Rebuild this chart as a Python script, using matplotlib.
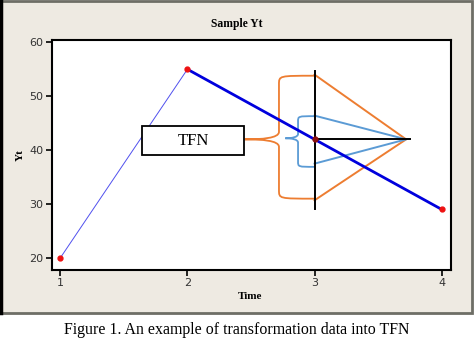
#!/usr/bin/env python3
"""Sample Yt chart with a TFN (triangular fuzzy number) sketch."""

import matplotlib

matplotlib.use("Agg")
import matplotlib.pyplot as plt
from matplotlib.patches import PathPatch, Rectangle
from matplotlib.path import Path

# series
time = [1, 2, 3, 4]
yt = [20, 55, 42, 29]

# TFN sketch around the point at time 3
tfn_x = 3
tfn_apex_x = 3.72
tfn_axis_end = 3.75
tfn_vline = [29.0, 54.6]
outer_tfn = [30.7, 42, 54.0]   # low, mid, high
inner_tfn = [37.5, 42, 46.4]

# braces: (x of spine, x of tip, y bottom, y top, y tip)
outer_brace = (2.72, 2.45, 31.0, 53.8, 42)
inner_brace = (2.87, 2.77, 36.9, 46.3, 42.2)

# label box (x0, x1, y0, y1)
tfn_box = (1.645, 2.445, 39.1, 44.45)

ORANGE = "#ED7D31"
LIGHT_BLUE = "#5B9BD5"
SERIF = ["Liberation Serif", "DejaVu Serif"]
SANS = ["DejaVu Sans"]


def brace_path(x_right, spine, tip, y_bot, y_top, y_tip, r=1.6, r_tip=1.4):
    verts = [
        (x_right, y_top),
        (spine, y_top), (spine, y_top), (spine, y_top - r),
        (spine, y_tip + r_tip),
        (spine, y_tip + 0.2), (spine - (spine - tip) * 0.5, y_tip), (tip, y_tip),
        (spine - (spine - tip) * 0.5, y_tip), (spine, y_tip - 0.2), (spine, y_tip - r_tip),
        (spine, y_bot + r),
        (spine, y_bot), (spine, y_bot), (x_right, y_bot),
    ]
    codes = [
        Path.MOVETO,
        Path.CURVE4, Path.CURVE4, Path.CURVE4,
        Path.LINETO,
        Path.CURVE4, Path.CURVE4, Path.CURVE4,
        Path.CURVE4, Path.CURVE4, Path.CURVE4,
        Path.LINETO,
        Path.CURVE4, Path.CURVE4, Path.CURVE4,
    ]
    return Path(verts, codes)


fig = plt.figure(figsize=(4.74, 3.38), dpi=100)
fig.patch.set_facecolor("white")

# gray window frame behind the plot
frame = Rectangle((0.002, 1 - 313 / 338), 0.994, 313 / 338 - 0.004,
                  transform=fig.transFigure, facecolor="#EEEAE2",
                  edgecolor="#6E6E66", linewidth=2, zorder=-2)
fig.patches.append(frame)
fig.add_artist(plt.Line2D([0.002, 0.002], [1 - 313 / 338, 1], color="black",
                          linewidth=2.5, transform=fig.transFigure, zorder=-1))

ax = fig.add_axes([0.1097, 0.2012, 0.8418, 0.6805])
ax.set_zorder(1)
ax.set_facecolor("white")

ax.plot(time[:2], yt[:2], color="#5050EE", linewidth=0.7, zorder=3)
ax.plot(time[1:], yt[1:], color="#0000DD", linewidth=2.0, zorder=3)
ax.plot([time[i] for i in (0, 1, 3)], [yt[i] for i in (0, 1, 3)], "o",
        color="#EE1111", markersize=3.5, zorder=5)
ax.plot(time[2], yt[2], "o", color="#8B1010", markersize=3.5, zorder=5)

# TFN triangles
ax.plot([tfn_x, tfn_apex_x, tfn_x], [outer_tfn[2], outer_tfn[1], outer_tfn[0]],
        color=ORANGE, linewidth=1.4, zorder=2)
ax.plot([tfn_x, tfn_apex_x, tfn_x], [inner_tfn[2], inner_tfn[1], inner_tfn[0]],
        color=LIGHT_BLUE, linewidth=1.4, zorder=2)
ax.plot([tfn_x, tfn_x], tfn_vline, color="black", linewidth=1.4, zorder=4)
ax.plot([tfn_x, tfn_axis_end], [outer_tfn[1], outer_tfn[1]], color="black",
        linewidth=1.4, zorder=2)

ax.add_patch(PathPatch(brace_path(tfn_x, *outer_brace), facecolor="none",
                       edgecolor=ORANGE, linewidth=1.3, zorder=2))
ax.add_patch(PathPatch(brace_path(tfn_x, *inner_brace, r=1.0, r_tip=0.8),
                       facecolor="none", edgecolor=LIGHT_BLUE, linewidth=1.3,
                       zorder=2))

bx0, bx1, by0, by1 = tfn_box
ax.add_patch(Rectangle((bx0, by0), bx1 - bx0, by1 - by0, facecolor="white",
                       edgecolor="black", linewidth=1.3, zorder=6))
ax.text((bx0 + bx1) / 2, (by0 + by1) / 2, "TFN", ha="center", va="center",
        fontsize=12, family=SERIF, zorder=7)

ax.set_xlim(0.935, 4.073)
ax.set_ylim(17.77, 60.43)
ax.set_xticks(time)
ax.set_yticks([20, 30, 40, 50, 60])
ax.tick_params(direction="out", length=4, width=1.2, labelsize=8,
               labelcolor="#333333", pad=2)
for label in ax.get_xticklabels() + ax.get_yticklabels():
    label.set_family(SANS)
for spine in ax.spines.values():
    spine.set_linewidth(1.5)

fig.text(0.5, 0.929, "Sample Yt", ha="center", va="center", fontsize=8.4,
         fontweight="bold", family=SERIF)
fig.text(0.527, 0.124, "Time", ha="center", va="center", fontsize=8,
         fontweight="bold", family=SERIF)
fig.text(0.042, 0.541, "Yt", ha="center", va="center", fontsize=8,
         fontweight="bold", family=SERIF, rotation=90)
fig.text(0.5, 0.001, "Figure 1. An example of transformation data into TFN",
         ha="center", va="bottom", fontsize=11.4, family=SERIF)

fig.savefig("out.png", dpi=100)
